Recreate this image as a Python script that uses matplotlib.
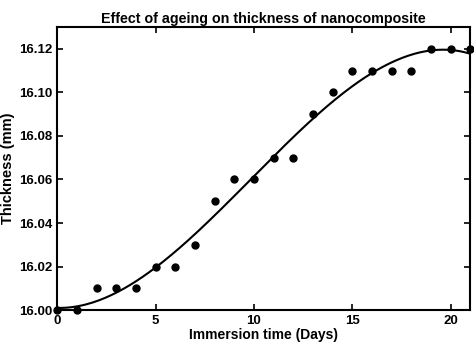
import numpy as np
import matplotlib
matplotlib.use('Agg')
import matplotlib.pyplot as plt

plt.rcParams['font.family'] = ['Liberation Sans', 'DejaVu Sans']
plt.rcParams['font.weight'] = 'bold'

# immersion days and measured thickness (mm)
days = [0, 1, 2, 3, 4, 5, 6, 7, 8, 9, 10, 11, 12, 13, 14, 15, 16, 17, 18, 19, 20, 21]
thickness = [16.00, 16.00, 16.01, 16.01, 16.01, 16.02, 16.02, 16.03, 16.05, 16.06, 16.06,
             16.07, 16.07, 16.09, 16.10, 16.11, 16.11, 16.11, 16.11, 16.12, 16.12, 16.12]
x_ticks = [0, 5, 10, 15, 20]
y_ticks = [16.00, 16.02, 16.04, 16.06, 16.08, 16.10, 16.12]

# cubic fit through the points, as in the original
coef = np.polyfit(days, thickness, 3)
xs = np.linspace(0, 21, 200)
ys = np.polyval(coef, xs)

fig = plt.figure(figsize=(4.74, 3.48), dpi=100)
ax = fig.add_axes([0.121, 0.109, 0.871, 0.813])

ax.plot(xs, ys, color='black', lw=1.5)
ax.plot(days, thickness, 'o', color='black', ms=5, clip_on=False)

ax.set_xlim(0, 21)
ax.set_ylim(16.00, 16.13)
ax.set_xticks(x_ticks)
ax.set_yticks(y_ticks)
ax.set_yticklabels(['%.2f' % v for v in y_ticks])
ax.tick_params(direction='in', top=True, right=True, length=4, width=1.2, labelsize=9.5)
for s in ax.spines.values():
    s.set_linewidth(1.5)

ax.set_xlabel('Immersion time (Days)', fontsize=10, fontweight='bold', labelpad=1)
ax.set_ylabel('Thickness (mm)', fontsize=10.5, fontweight='bold', labelpad=3)
ax.set_title('Effect of ageing on thickness of nanocomposite', fontsize=10.3, fontweight='bold', pad=3)

fig.savefig('out.png', dpi=100)
